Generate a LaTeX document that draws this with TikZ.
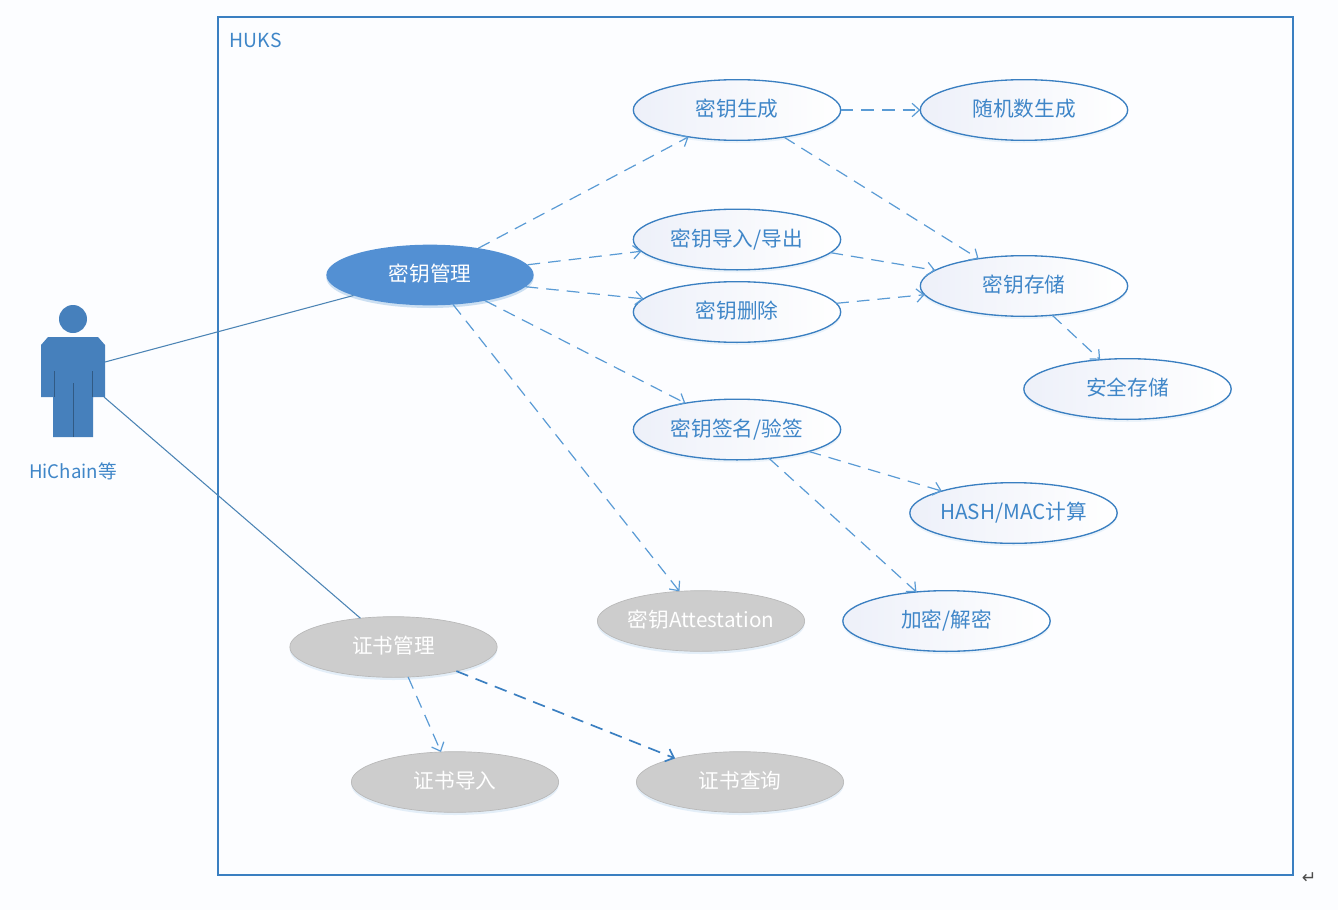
\documentclass[tikz,border=0pt]{standalone}
\usepackage{fontspec}
\setmainfont{Noto Sans CJK SC}
\usetikzlibrary{arrows.meta,shapes.geometric,shadows}
\definecolor{boxblue}{HTML}{3A7FC1}
\definecolor{edgeblue}{HTML}{5A9BD5}
\definecolor{textblue}{HTML}{3F86C8}
\definecolor{manblue}{HTML}{4680BC}
\definecolor{mgmtblue}{HTML}{5390D3}
\definecolor{greyfill}{HTML}{CDCDCD}
\definecolor{paper}{HTML}{FCFDFF}
\definecolor{uclight}{HTML}{EDF0F9}
\newcommand{\lb}[1]{\makebox[0pt]{\vphantom{密/}#1}}
\tikzset{
  uc/.style={ellipse,minimum width=155.5pt,minimum height=45.5pt,inner sep=0pt,outer sep=0pt,font=\fontsize{15.5}{18}\selectfont},
  usecase/.style={uc,draw=boxblue,line width=1pt,left color=uclight,right color=white,text=textblue,drop shadow={shadow xshift=0pt,shadow yshift=-2pt,fill=edgeblue,opacity=.1}},
  active/.style={uc,fill=mgmtblue,text=white,drop shadow={shadow xshift=0pt,shadow yshift=-2pt,fill=edgeblue,opacity=.3}},
  inactive/.style={uc,fill=greyfill,draw=black!28,line width=.5pt,text=white,drop shadow={shadow xshift=0pt,shadow yshift=-2pt,fill=edgeblue,opacity=.15}},
  dep/.style={draw=edgeblue,line width=.9pt,dash pattern=on 9.5pt off 6pt,-{Straight Barb[length=5.5pt,width=10pt]}},
  depstrong/.style={dep,line width=1.25pt,draw=boxblue},
  assoc/.style={draw=edgeblue!85!black,line width=.8pt},
  man/.style={fill=manblue},
  seam/.style={draw=manblue!70!black,line width=.7pt}
}
\begin{document}
\begin{tikzpicture}[x=.75pt,y=-.75pt]
\useasboundingbox (0,0) rectangle (1338,910);
\fill[paper] (0,0) rectangle (1338,910);
\draw[boxblue,line width=1.4pt] (218,17) rectangle (1293,875);
\node[anchor=west,text=textblue,font=\fontsize{14.5}{17}\selectfont] (huks) at (225,40) {HUKS};
\node[text=textblue,font=\fontsize{14}{17}\selectfont] (hichain) at (73,471) {HiChain等};
\node[text=black!70,font=\fontsize{13}{15}\selectfont\fontspec{DejaVu Sans}] (ret) at (1309,878) {↵};
% actor
\fill[man] (73,319) circle (14);
\fill[man] (48,337) -- (98,337) -- (105,345) -- (105,397) -- (93,397) -- (93,437) -- (53,437) -- (53,397) -- (41,397) -- (41,345) -- cycle;
\draw[seam] (54,371) -- (54,397);
\draw[seam] (92,371) -- (92,397);
\draw[seam] (73,383) -- (73,437);
\coordinate (actorup) at (105,362);
\coordinate (actorlow) at (104,397);
% use cases
\node[active] (mgmt) at (430,275) {\lb{密钥管理}};
\node[usecase] (gen) at (737,110) {\lb{密钥生成}};
\node[usecase] (rand) at (1024,110) {\lb{随机数生成}};
\node[usecase] (imp) at (737,239.5) {\lb{密钥导入/导出}};
\node[usecase] (store) at (1024,286) {\lb{密钥存储}};
\node[usecase] (del) at (737,312) {\lb{密钥删除}};
\node[usecase] (safe) at (1127.5,389) {\lb{安全存储}};
\node[usecase] (sign) at (737,429.5) {\lb{密钥签名/验签}};
\node[usecase] (hash) at (1013.5,513) {\lb{HASH/MAC计算}};
\node[usecase] (enc) at (946.5,621) {\lb{加密/解密}};
\node[inactive] (att) at (701,621) {\lb{密钥Attestation}};
\node[inactive] (cert) at (393.5,647) {\lb{证书管理}};
\node[inactive] (certimp) at (455,782) {\lb{证书导入}};
\node[inactive] (certq) at (740,782) {\lb{证书查询}};
% associations
\draw[assoc] (actorup) -- (mgmt.195);
\draw[assoc] (actorlow) -- (cert.139);
% dependencies
\draw[dep] (mgmt.29) -- (gen.209);
\draw[dep] (mgmt.6.5) -- (imp.187);
\draw[dep] (mgmt.-7) -- (del.172);
\draw[dep] (mgmt.-25.7) -- (sign.153);
\draw[dep] (mgmt.-52.5) -- (att.126);
\draw[dep] (gen.0) -- (rand.180);
\draw[dep] (gen.-30) -- (store.149);
\draw[dep] (imp.-8.6) -- (store.170);
\draw[dep] (del.5.7) -- (store.185);
\draw[dep] (store.-46) -- (safe.133);
\draw[dep] (sign.-17) -- (hash.163);
\draw[dep] (sign.-42) -- (enc.136);
\draw[dep] (cert.-64) -- (certimp.115);
\draw[depstrong] (cert.-21) -- (certq.160);
\end{tikzpicture}
\end{document}
